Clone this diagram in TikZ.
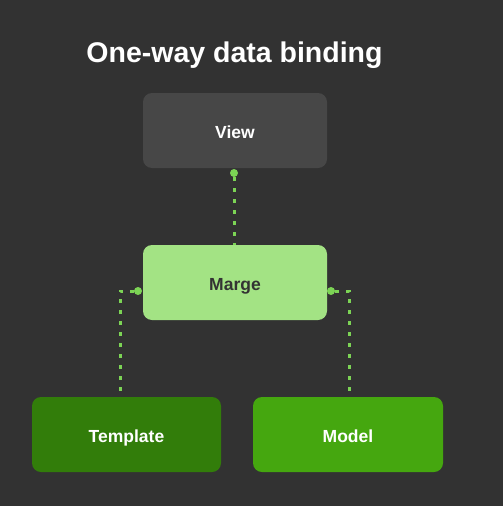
\documentclass[tikz,border=0pt]{standalone}
\usepackage{fontspec}
\setmainfont{Liberation Sans}
\definecolor{bg}{HTML}{323232}
\definecolor{viewc}{HTML}{474747}
\definecolor{margec}{HTML}{A3E384}
\definecolor{templc}{HTML}{327D0A}
\definecolor{modelc}{HTML}{45A70F}
\definecolor{linkc}{HTML}{7CD455}
\definecolor{darktxt}{HTML}{333333}
\begin{document}
\begin{tikzpicture}[x=1pt,y=-1pt,
  box/.style={rounded corners=9pt, minimum width=184pt, minimum height=75pt, inner sep=0pt, text height=16pt, text depth=0pt, font=\fontsize{17.5}{20}\selectfont\bfseries},
  link/.style={draw=linkc, line width=3pt, dash pattern=on 4pt off 7pt},
  enddot/.style={circle, fill=linkc, inner sep=0pt, minimum size=8pt}]
\fill[bg] (0,0) rectangle (503,506);
\useasboundingbox (0,0) rectangle (503,506);
\node[text=white, font=\fontsize{28.5}{32}\selectfont\bfseries] (title) at (234.5,55) {One-way data binding};
\node[box, fill=viewc, text=white] (view) at (235,130.5) {View};
\node[box, fill=margec, text=darktxt] (marge) at (235,282.5) {Marge};
\node[box, fill=templc, text=white, minimum width=189pt] (templ) at (126.5,434.5) {Template};
\node[box, fill=modelc, text=white, minimum width=190pt] (model) at (348,434.5) {Model};
\node[enddot] (d1) at (234,173) {};
\node[enddot] (d2) at (138,291) {};
\node[enddot] (d3) at (331,291) {};
\coordinate (c2) at (120,291);
\coordinate (c3) at (349,291);
\draw[link] (d1.south) -- (d1.south |- marge.north);
\draw[link] (d2.west) -- (c2) -- (c2 |- templ.north);
\draw[link] (d3.east) -- (c3) -- (c3 |- model.north);
\end{tikzpicture}
\end{document}
